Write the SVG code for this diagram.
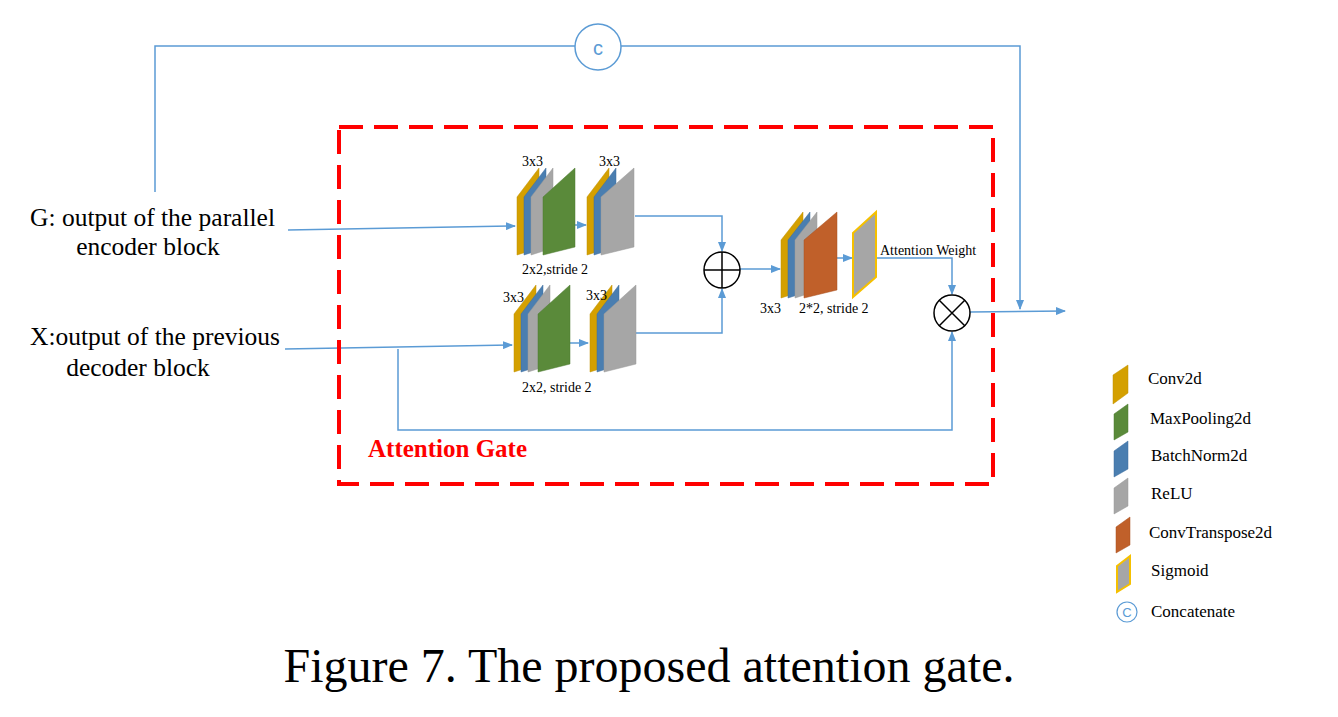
<svg xmlns="http://www.w3.org/2000/svg" width="1338" height="717" viewBox="0 0 1338 717">
<defs>
<marker id="ah" markerWidth="10" markerHeight="8" refX="9" refY="4" orient="auto" markerUnits="userSpaceOnUse"><path d="M0,0 L10,4 L0,8 Z" fill="#5b9bd5"/></marker>
<style>
.c{fill:none;stroke:#5b9bd5;stroke-width:1.5}
.y{fill:#d4a000;stroke:#c09000;stroke-width:.5}
.b{fill:#4a7eb0;stroke:#3d6d9e;stroke-width:.5}
.g{fill:#a6a6a6;stroke:#999;stroke-width:.5}
.gr{fill:#5a8a3a;stroke:#4d7a30;stroke-width:.5}
.o{fill:#c0602a;stroke:#a85020;stroke-width:.5}
.s{fill:#a6a6a6;stroke:#f5c000;stroke-width:2}
.t{font-family:"Liberation Serif",serif;fill:#000}
.sm{font-size:14px}
.lg{font-size:17px}
.op{fill:#fff;stroke:#000;stroke-width:1.5}
</style>
</defs>
<rect width="1338" height="717" fill="#fff"/>
<g id="connectors">
<path class="c" d="M155,192 V46 H575"/>
<path class="c" d="M621,46 H1020 V309" marker-end="url(#ah)"/>
<path class="c" d="M288,230 L515,226" marker-end="url(#ah)"/>
<path class="c" d="M562,225 H586" marker-end="url(#ah)"/>
<path class="c" d="M635,216 H722 V251" marker-end="url(#ah)"/>
<path class="c" d="M285,349 L512,345" marker-end="url(#ah)"/>
<path class="c" d="M557,343 H588" marker-end="url(#ah)"/>
<path class="c" d="M636,333 H722 V289" marker-end="url(#ah)"/>
<path class="c" d="M740,269 H780" marker-end="url(#ah)"/>
<path class="c" d="M828,258 H852" marker-end="url(#ah)"/>
<path class="c" d="M870,258 H952 V294" marker-end="url(#ah)"/>
<path class="c" d="M398,349 V430 H952 V332" marker-end="url(#ah)"/>
<path class="c" d="M970,312 L1065,311" marker-end="url(#ah)"/>
</g>
<rect id="attention-gate" x="339" y="127" width="654" height="357" fill="none" stroke="#ff0000" stroke-width="4" stroke-dasharray="24 11"/>
<text class="t" x="368" y="457" font-size="25" font-weight="bold" style="fill:#ff0000">Attention Gate</text>
<g id="concat"><circle cx="598" cy="47" r="23" fill="#fff" stroke="#5b9bd5" stroke-width="1.5"/><text x="598" y="55" text-anchor="middle" font-family="Liberation Sans,sans-serif" font-size="20" fill="#5b9bd5">c</text></g>
<g id="block-g1">
<polygon class="y" points="517,197 539,168 539,248 517,255"/>
<polygon class="b" points="524,197 546,168 546,248 524,255"/>
<polygon class="g" points="531,197 553,168 553,248 531,255"/>
<polygon class="gr" points="543,197 575,168 575,247 543,255"/>
</g>
<g id="block-g2">
<polygon class="y" points="587,197 609,168 609,248 587,255"/>
<polygon class="b" points="594,197 616,168 616,248 594,255"/>
<polygon class="g" points="601,197 634,168 634,247 601,255"/>
</g>
<g id="block-x1">
<polygon class="y" points="514,314 536,285 536,365 514,372"/>
<polygon class="b" points="521,314 543,285 543,365 521,372"/>
<polygon class="g" points="528,314 550,285 550,365 528,372"/>
<polygon class="gr" points="538,314 570,285 570,364 538,372"/>
</g>
<g id="block-x2">
<polygon class="y" points="590,314 612,285 612,365 590,372"/>
<polygon class="b" points="597,314 619,285 619,365 597,372"/>
<polygon class="g" points="604,314 636,285 636,364 604,372"/>
</g>
<g id="block-up">
<polygon class="y" points="781,240 803,212 803,291 781,298"/>
<polygon class="b" points="788,240 810,212 810,291 788,298"/>
<polygon class="g" points="795,240 817,212 817,291 795,298"/>
<polygon class="o" points="804,240 837,212 837,290 804,298"/>
</g>
<g id="sigmoid"><polygon class="s" points="853,233 876,212 876,277 853,297"/></g>
<g id="add"><circle class="op" cx="722" cy="270" r="18"/><path d="M704,270 H740 M722,252 V288" stroke="#000" stroke-width="1.5"/></g>
<g id="mul"><circle class="op" cx="952" cy="313" r="18"/><path d="M939,300 L965,326 M965,300 L939,326" stroke="#000" stroke-width="1.5"/></g>
<g id="labels">
<text class="t sm" x="522" y="166">3x3</text>
<text class="t sm" x="599" y="166">3x3</text>
<text class="t sm" x="503" y="302">3x3</text>
<text class="t sm" x="586" y="300">3x3</text>
<text class="t sm" x="522" y="274">2x2,stride 2</text>
<text class="t sm" x="522" y="392">2x2, stride 2</text>
<text class="t sm" x="760" y="313">3x3</text>
<text class="t sm" x="799" y="313">2*2, stride 2</text>
<text class="t sm" x="880" y="255" font-size="14.6">Attention Weight</text>
<text class="t" font-size="25.5" x="30" y="226">G: output of the parallel</text>
<text class="t" font-size="25.5" x="148" y="255" text-anchor="middle">encoder block</text>
<text class="t" font-size="25.5" x="30" y="345">X:output of the previous</text>
<text class="t" font-size="25.5" x="138" y="376" text-anchor="middle">decoder block</text>
<text class="t" font-size="48" x="649" y="682" text-anchor="middle">Figure 7. The proposed attention gate.</text>
</g>
<g id="legend">
<polygon class="y" points="1113,375 1128,365 1128,393 1113,404"/><text class="t lg" x="1148" y="384">Conv2d</text>
<polygon class="gr" points="1114,414 1128,404 1128,432 1114,440"/><text class="t lg" x="1150" y="424">MaxPooling2d</text>
<polygon class="b" points="1114,451 1128,441 1128,469 1114,477"/><text class="t lg" x="1151" y="461">BatchNorm2d</text>
<polygon class="g" points="1114,488 1128,478 1128,506 1114,514"/><text class="t lg" x="1151" y="499">ReLU</text>
<polygon class="o" points="1116,527 1130,517 1130,545 1116,553"/><text class="t lg" x="1149" y="538">ConvTranspose2d</text>
<polygon class="s" points="1117,566 1130,556 1130,584 1117,592"/><text class="t lg" x="1151" y="576">Sigmoid</text>
<circle cx="1127" cy="612" r="10" fill="none" stroke="#5b9bd5" stroke-width="1.2"/><text x="1127" y="617" text-anchor="middle" font-family="Liberation Sans,sans-serif" font-size="13" fill="#5b9bd5">C</text>
<text class="t lg" x="1151" y="617">Concatenate</text>
</g>
</svg>
